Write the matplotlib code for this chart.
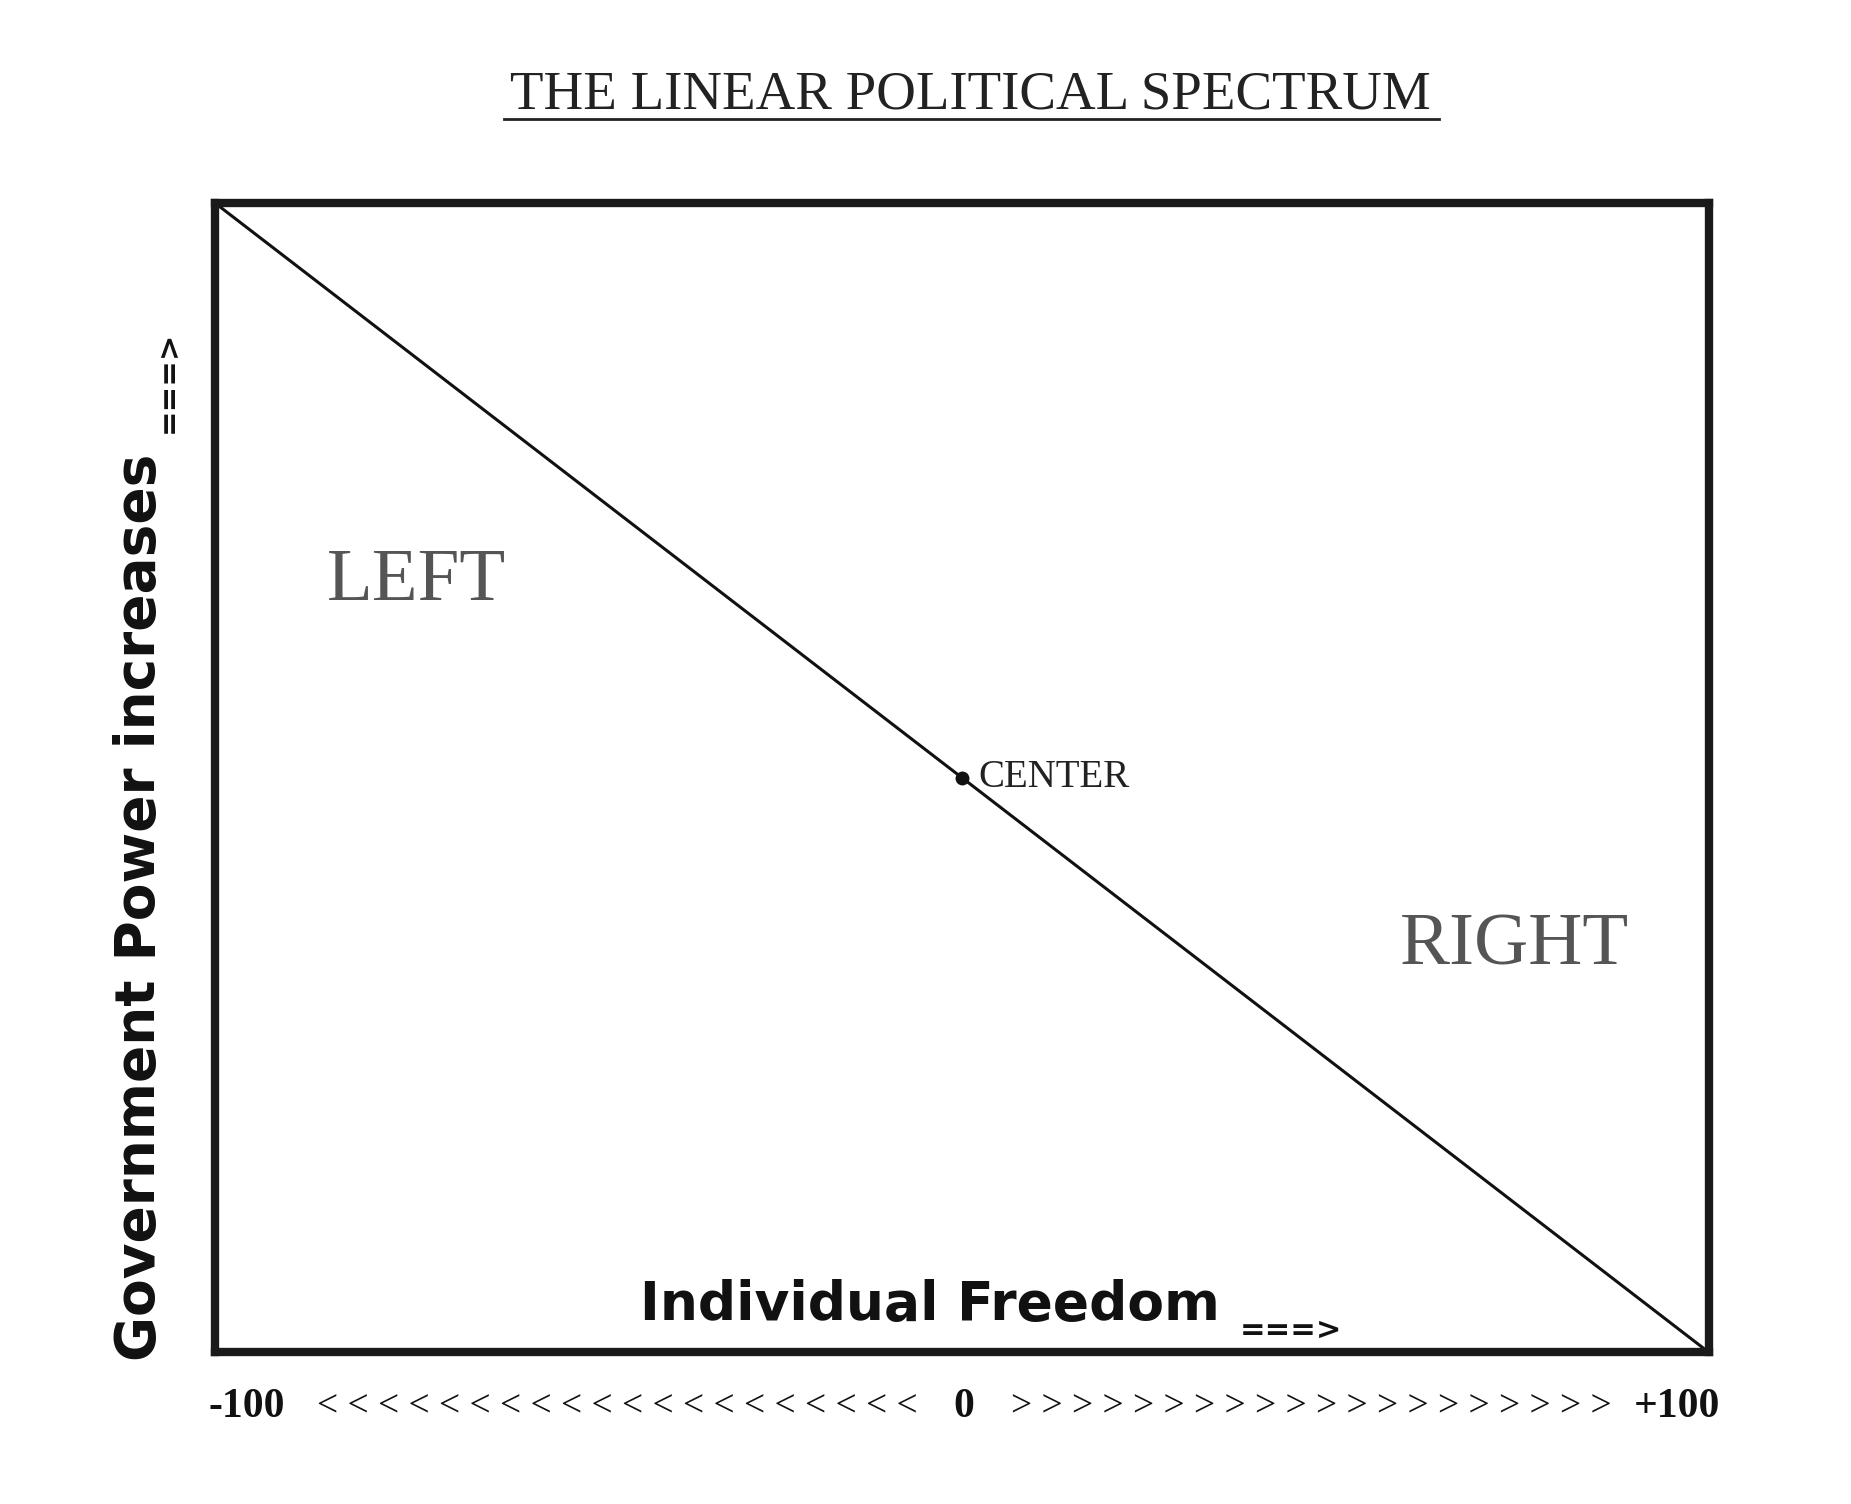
import matplotlib
matplotlib.use("Agg")
import matplotlib.pyplot as plt

line_x = [-100, 100]
line_y = [100, -100]
center = (0, 0)
tick_labels = ["-100", "0", "+100"]
region_labels = {"LEFT": (-73, 34), "RIGHT": (74, -29.5)}

W, H = 1851, 1504
fig = plt.figure(figsize=(W/100, H/100), dpi=100)
L, R, T, B = 181/1560, 1440/1560, 1-171/1268, 1-1140/1268
ax = fig.add_axes([L, B, R-L, T-B])
ax.set_xlim(-100, 100); ax.set_ylim(-100, 100)
ax.set_xticks([]); ax.set_yticks([])
for s in ax.spines.values():
    s.set_linewidth(6); s.set_color("#1a1a1a")
ax.plot(line_x, line_y, color="#111", lw=2.2)
ax.plot(*center, "o", color="#111", ms=9)
ax.text(center[0]+2.3, center[1], "CENTER", family="Liberation Serif", fontsize=28, va="center", color="#222")
for k, (x, y) in region_labels.items():
    ax.text(x, y, k, family="Liberation Serif", fontsize=54, ha="center", va="center", color="#555")

fig.text(818/1560, 1-80/1268, "THE LINEAR POLITICAL SPECTRUM", family="Liberation Serif",
         fontsize=39.5, ha="center", va="center", color="#222")
fig.add_artist(plt.Line2D([425/1560, 1213/1560], [1-100/1268]*2, color="#222", lw=2))

fig.text(118/1560, 1-765/1268, "Government Power increases", rotation=90, family="DejaVu Sans",
         weight="bold", fontsize=39.5, ha="center", va="center", color="#111")
fig.text(142/1560, 1-322/1268, "===>", rotation=90, family="DejaVu Sans", weight="bold",
         fontsize=22, ha="center", va="center", color="#111")
fig.text(784/1560, 1-1100/1268, "Individual Freedom", family="DejaVu Sans", weight="bold",
         fontsize=38.5, ha="center", va="center", color="#111")
fig.text(1088/1560, 1-1122/1268, "===>", family="DejaVu Sans", weight="bold",
         fontsize=22, ha="center", va="center", color="#111")

ty = 1-1186/1268
for lab, x in zip(tick_labels, [208, 812, 1413]):
    fig.text(x/1560, ty, lab, family="Liberation Serif", weight="bold", fontsize=30,
             ha="center", va="center", color="#111")
fig.text(520/1560, ty, " ".join(["<"]*20), family="Liberation Serif", fontsize=27,
         ha="center", va="center", color="#111")
fig.text(1105/1560, ty, " ".join([">"]*20), family="Liberation Serif", fontsize=27,
         ha="center", va="center", color="#111")

fig.savefig("out.png", dpi=100, facecolor="white")
